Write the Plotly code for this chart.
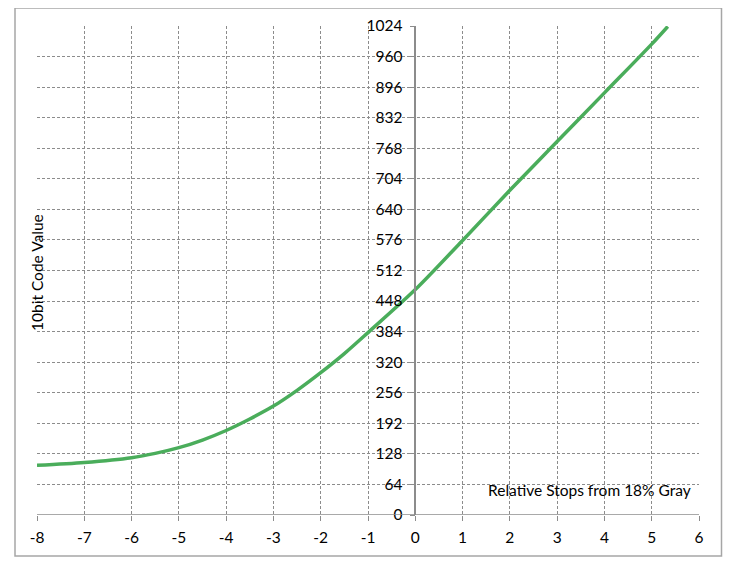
import plotly.graph_objects as go

# Data
stops = [-8, -7, -6, -5.5, -5, -4.5, -4, -3.5, -3, -2.5, -2, -1.5, -1, 0, 1, 2, 3, 4, 5, 5.34]
code_values = [104, 110, 120, 129, 141, 157, 177, 201, 228, 261, 298, 338, 382, 472, 575, 680, 782, 884, 986, 1023]

x_ticks = [-8, -7, -6, -5, -4, -3, -2, -1, 0, 1, 2, 3, 4, 5, 6]
y_ticks = [0, 64, 128, 192, 256, 320, 384, 448, 512, 576, 640, 704, 768, 832, 896, 960, 1024]

W, H = 737, 572
OFF = 8  # page body margin offset
# page coordinates of plot area: left 37, right 699, top 26, bottom 515
L = 37 - OFF
T = 26 - OFF
R = W - (699 - OFF)
B = H - (515 - OFF)
pw, ph = W - L - R, H - T - B

def px_x(p):
    return (p - OFF - L) / pw

def px_y(p):
    return (H - B - (p - OFF)) / ph

font_family = "Lato, 'Open Sans', sans-serif"

fig = go.Figure()
fig.add_trace(go.Scatter(
    x=stops, y=code_values, mode="lines",
    line=dict(color="#4aad5b", width=3.5, shape="spline", smoothing=0.8),
    hoverinfo="skip", showlegend=False,
))

grid = dict(showgrid=True, gridcolor="#8c8c8c", gridwidth=1, griddash="3px,2px")

fig.update_layout(
    width=W, height=H,
    margin=dict(l=L, r=R, t=T, b=B, pad=0),
    paper_bgcolor="white", plot_bgcolor="white",
    font=dict(family=font_family, size=15.5, color="#000000"),
    xaxis=dict(
        range=[-8, 6], tickvals=x_ticks, ticktext=[str(v) for v in x_ticks],
        zeroline=False, showline=False, automargin=False,
        ticks="outside", ticklen=5, tickcolor="#8c8c8c", tickwidth=1,
        ticklabelstandoff=3,
        **grid,
    ),
    yaxis=dict(
        range=[0, 1024], tickvals=y_ticks, ticktext=[str(v) for v in y_ticks],
        zeroline=False, showline=True, linecolor="#8c8c8c", linewidth=1.5,
        anchor="free", position=8 / 14, automargin=False,
        ticks="outside", ticklen=5, tickcolor="#8c8c8c", tickwidth=1,
        ticklabelstandoff=4,
        **grid,
    ),
    shapes=[
        # x axis line at y = 0
        dict(type="line", xref="paper", yref="y", x0=0, x1=1, y0=0, y1=0,
             line=dict(color="#8c8c8c", width=1.5), layer="above"),
        # outer chart border
        dict(type="rect", xref="paper", yref="paper",
             x0=px_x(15), x1=px_x(721.5), y0=px_y(556), y1=px_y(8),
             line=dict(color="#a6a6a6", width=1.5), layer="below"),
    ],
    annotations=[
        dict(text="10bit Code Value", xref="paper", yref="paper",
             x=px_x(37), y=px_y(273), textangle=-90, showarrow=False,
             xanchor="center", yanchor="middle", font=dict(size=15.5, color="#000000")),
        dict(text="Relative Stops from 18% Gray", xref="paper", yref="paper",
             x=px_x(693), y=px_y(490), showarrow=False,
             xanchor="right", yanchor="middle", font=dict(size=15.5, color="#000000")),
    ],
)

fig.write_html("out.html")
